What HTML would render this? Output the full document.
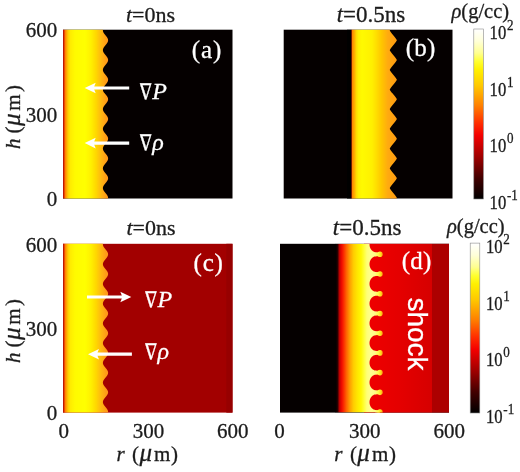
<!DOCTYPE html>
<html><head><meta charset="utf-8"><title>figure</title>
<style>html,body{margin:0;padding:0;background:#fff;}svg{display:block;filter:blur(0.45px);}text{font-family:"Liberation Serif","DejaVu Serif",serif;stroke-width:0.3px;}text[fill="#fff"]{stroke:#fff;}text:not([fill]),text[fill="#1c1c1c"]{stroke:#1c1c1c;}</style>
</head><body>
<svg width="520" height="472" viewBox="0 0 520 472" fill="#1c1c1c">
<defs>
<linearGradient id="gA" gradientUnits="userSpaceOnUse" x1="63.00" y1="0" x2="110.00" y2="0"><stop offset="0.0000" stop-color="#a00000"/><stop offset="0.0213" stop-color="#e03000"/><stop offset="0.0532" stop-color="#ff8800"/><stop offset="0.1064" stop-color="#ffcc00"/><stop offset="0.1596" stop-color="#ffec00"/><stop offset="0.2553" stop-color="#fffa00"/><stop offset="0.4681" stop-color="#ffff00"/><stop offset="0.5957" stop-color="#fff000"/><stop offset="0.7021" stop-color="#ffd800"/><stop offset="0.8085" stop-color="#ffb810"/><stop offset="0.9149" stop-color="#ff9c18"/><stop offset="1.0000" stop-color="#ff9418"/></linearGradient>
<linearGradient id="gB" gradientUnits="userSpaceOnUse" x1="347.00" y1="0" x2="398.00" y2="0"><stop offset="0.0000" stop-color="#000000"/><stop offset="0.0745" stop-color="#000000"/><stop offset="0.0902" stop-color="#802000"/><stop offset="0.1059" stop-color="#ff8800"/><stop offset="0.1471" stop-color="#ffb000"/><stop offset="0.1863" stop-color="#ffdc00"/><stop offset="0.2255" stop-color="#fff000"/><stop offset="0.2941" stop-color="#fffa00"/><stop offset="0.4902" stop-color="#fff000"/><stop offset="0.5686" stop-color="#ffe000"/><stop offset="0.6863" stop-color="#ffc400"/><stop offset="0.8039" stop-color="#ffaa10"/><stop offset="1.0000" stop-color="#ff9810"/></linearGradient>
<linearGradient id="gD" gradientUnits="userSpaceOnUse" x1="335.00" y1="0" x2="378.00" y2="0"><stop offset="0.0000" stop-color="#000000"/><stop offset="0.0535" stop-color="#180000"/><stop offset="0.1047" stop-color="#c00000"/><stop offset="0.1512" stop-color="#ec0800"/><stop offset="0.1977" stop-color="#fa2800"/><stop offset="0.2674" stop-color="#ff6400"/><stop offset="0.3488" stop-color="#ffa000"/><stop offset="0.4302" stop-color="#ffcc00"/><stop offset="0.5116" stop-color="#ffe400"/><stop offset="0.6047" stop-color="#fff800"/><stop offset="0.6744" stop-color="#ffff38"/><stop offset="0.7442" stop-color="#ffff78"/><stop offset="0.8372" stop-color="#ffff90"/><stop offset="1.0000" stop-color="#ffff80"/></linearGradient>
<linearGradient id="gS" gradientUnits="userSpaceOnUse" x1="375.00" y1="0" x2="382.80" y2="0"><stop offset="0.0000" stop-color="#ffff80"/><stop offset="0.3846" stop-color="#ffff50"/><stop offset="0.7051" stop-color="#ffe020"/><stop offset="1.0000" stop-color="#ffa010"/></linearGradient>
<linearGradient id="gCB1" gradientUnits="userSpaceOnUse" x1="0" y1="29.20" x2="0" y2="199.00"><stop offset="0.0000" stop-color="#ffffff"/><stop offset="0.0700" stop-color="#ffffd8"/><stop offset="0.1400" stop-color="#ffff90"/><stop offset="0.1900" stop-color="#ffff30"/><stop offset="0.2400" stop-color="#fff000"/><stop offset="0.3330" stop-color="#ffc800"/><stop offset="0.4500" stop-color="#ff8000"/><stop offset="0.5500" stop-color="#ff3000"/><stop offset="0.6250" stop-color="#f40000"/><stop offset="0.7500" stop-color="#a00000"/><stop offset="0.8800" stop-color="#400000"/><stop offset="1.0000" stop-color="#000000"/></linearGradient>
<linearGradient id="gCB2" gradientUnits="userSpaceOnUse" x1="0" y1="243.30" x2="0" y2="413.00"><stop offset="0.0000" stop-color="#ffffff"/><stop offset="0.0700" stop-color="#ffffd8"/><stop offset="0.1400" stop-color="#ffff90"/><stop offset="0.1900" stop-color="#ffff30"/><stop offset="0.2400" stop-color="#fff000"/><stop offset="0.3330" stop-color="#ffc800"/><stop offset="0.4500" stop-color="#ff8000"/><stop offset="0.5500" stop-color="#ff3000"/><stop offset="0.6250" stop-color="#f40000"/><stop offset="0.7500" stop-color="#a00000"/><stop offset="0.8800" stop-color="#400000"/><stop offset="1.0000" stop-color="#000000"/></linearGradient>
<linearGradient id="gR" gradientUnits="userSpaceOnUse" x1="370.00" y1="0" x2="432.00" y2="0"><stop offset="0.0000" stop-color="#ee0000"/><stop offset="0.5000" stop-color="#e40000"/><stop offset="1.0000" stop-color="#d60000"/></linearGradient>
</defs>
<rect x="63.00" y="29.70" width="169.50" height="168.80" fill="#050000"/>
<path d="M63.00 29.70 L102.95 29.70 L102.90 30.20 L102.92 30.70 L103.00 31.20 L103.14 31.70 L103.34 32.20 L103.60 32.70 L103.90 33.20 L104.25 33.70 L104.63 34.19 L105.03 34.69 L105.44 35.19 L105.85 35.69 L106.25 36.19 L106.64 36.69 L106.99 37.19 L107.31 37.69 L107.58 38.19 L107.80 38.69 L107.97 39.19 L108.07 39.69 L108.10 40.19 L108.07 40.69 L107.97 41.19 L107.81 41.69 L107.60 42.19 L107.33 42.68 L107.01 43.18 L106.66 43.68 L106.27 44.18 L105.87 44.68 L105.46 45.18 L105.05 45.68 L104.65 46.18 L104.27 46.68 L103.92 47.18 L103.61 47.68 L103.35 48.18 L103.15 48.68 L103.00 49.18 L102.92 49.68 L102.90 50.18 L102.95 50.68 L103.06 51.17 L103.24 51.67 L103.47 52.17 L103.75 52.67 L104.08 53.17 L104.44 53.67 L104.83 54.17 L105.24 54.67 L105.65 55.17 L106.06 55.67 L106.45 56.17 L106.82 56.67 L107.16 57.17 L107.46 57.67 L107.70 58.17 L107.90 58.67 L108.03 59.17 L108.09 59.66 L108.09 60.16 L108.03 60.66 L107.90 61.16 L107.71 61.66 L107.46 62.16 L107.17 62.66 L106.83 63.16 L106.46 63.66 L106.07 64.16 L105.66 64.66 L105.25 65.16 L104.84 65.66 L104.45 66.16 L104.08 66.66 L103.76 67.16 L103.47 67.66 L103.24 68.15 L103.07 68.65 L102.95 69.15 L102.90 69.65 L102.92 70.15 L103.00 70.65 L103.14 71.15 L103.35 71.65 L103.61 72.15 L103.91 72.65 L104.26 73.15 L104.64 73.65 L105.04 74.15 L105.45 74.65 L105.86 75.15 L106.26 75.65 L106.65 76.14 L107.00 76.64 L107.32 77.14 L107.59 77.64 L107.81 78.14 L107.97 78.64 L108.07 79.14 L108.10 79.64 L108.07 80.14 L107.97 80.64 L107.81 81.14 L107.59 81.64 L107.32 82.14 L107.00 82.64 L106.65 83.14 L106.26 83.64 L105.86 84.14 L105.45 84.63 L105.04 85.13 L104.64 85.63 L104.26 86.13 L103.91 86.63 L103.61 87.13 L103.35 87.63 L103.14 88.13 L103.00 88.63 L102.92 89.13 L102.90 89.63 L102.95 90.13 L103.07 90.63 L103.24 91.13 L103.47 91.63 L103.76 92.13 L104.09 92.63 L104.45 93.12 L104.84 93.62 L105.25 94.12 L105.66 94.62 L106.07 95.12 L106.46 95.62 L106.83 96.12 L107.17 96.62 L107.47 97.12 L107.71 97.62 L107.90 98.12 L108.03 98.62 L108.09 99.12 L108.09 99.62 L108.02 100.12 L107.89 100.62 L107.70 101.12 L107.46 101.61 L107.16 102.11 L106.82 102.61 L106.45 103.11 L106.06 103.61 L105.65 104.11 L105.23 104.61 L104.83 105.11 L104.44 105.61 L104.08 106.11 L103.75 106.61 L103.47 107.11 L103.24 107.61 L103.06 108.11 L102.95 108.61 L102.90 109.11 L102.92 109.61 L103.00 110.10 L103.15 110.60 L103.35 111.10 L103.61 111.60 L103.92 112.10 L104.27 112.60 L104.65 113.10 L105.05 113.60 L105.46 114.10 L105.87 114.60 L106.27 115.10 L106.66 115.60 L107.01 116.10 L107.33 116.60 L107.60 117.10 L107.81 117.60 L107.97 118.10 L108.07 118.59 L108.10 119.09 L108.07 119.59 L107.97 120.09 L107.80 120.59 L107.58 121.09 L107.31 121.59 L106.99 122.09 L106.64 122.59 L106.25 123.09 L105.85 123.59 L105.44 124.09 L105.02 124.59 L104.63 125.09 L104.25 125.59 L103.90 126.09 L103.60 126.59 L103.34 127.08 L103.14 127.58 L103.00 128.08 L102.92 128.58 L102.90 129.08 L102.95 129.58 L103.07 130.08 L103.25 130.58 L103.48 131.08 L103.77 131.58 L104.10 132.08 L104.46 132.58 L104.85 133.08 L105.26 133.58 L105.67 134.08 L106.08 134.58 L106.47 135.08 L106.84 135.57 L107.18 136.07 L107.47 136.57 L107.72 137.07 L107.90 137.57 L108.03 138.07 L108.09 138.57 L108.09 139.07 L108.02 139.57 L107.89 140.07 L107.70 140.57 L107.45 141.07 L107.15 141.57 L106.81 142.07 L106.44 142.57 L106.05 143.07 L105.64 143.57 L105.22 144.06 L104.82 144.56 L104.43 145.06 L104.07 145.56 L103.74 146.06 L103.46 146.56 L103.23 147.06 L103.06 147.56 L102.95 148.06 L102.90 148.56 L102.92 149.06 L103.01 149.56 L103.15 150.06 L103.36 150.56 L103.62 151.06 L103.93 151.56 L104.28 152.06 L104.66 152.55 L105.06 153.05 L105.47 153.55 L105.88 154.05 L106.28 154.55 L106.67 155.05 L107.02 155.55 L107.34 156.05 L107.60 156.55 L107.82 157.05 L107.98 157.55 L108.07 158.05 L108.10 158.55 L108.06 159.05 L107.96 159.55 L107.80 160.05 L107.58 160.54 L107.30 161.04 L106.98 161.54 L106.63 162.04 L106.24 162.54 L105.84 163.04 L105.42 163.54 L105.01 164.04 L104.61 164.54 L104.24 165.04 L103.89 165.54 L103.59 166.04 L103.34 166.54 L103.13 167.04 L102.99 167.54 L102.92 168.04 L102.90 168.54 L102.96 169.03 L103.07 169.53 L103.25 170.03 L103.49 170.53 L103.77 171.03 L104.10 171.53 L104.47 172.03 L104.86 172.53 L105.27 173.03 L105.68 173.53 L106.09 174.03 L106.48 174.53 L106.85 175.03 L107.19 175.53 L107.48 176.03 L107.72 176.53 L107.91 177.03 L108.03 177.52 L108.09 178.02 L108.09 178.52 L108.02 179.02 L107.89 179.52 L107.69 180.02 L107.44 180.52 L107.14 181.02 L106.80 181.52 L106.43 182.02 L106.04 182.52 L105.63 183.02 L105.21 183.52 L104.81 184.02 L104.42 184.52 L104.06 185.02 L103.73 185.52 L103.45 186.01 L103.22 186.51 L103.05 187.01 L102.95 187.51 L102.90 188.01 L102.92 188.51 L103.01 189.01 L103.16 189.51 L103.37 190.01 L103.63 190.51 L103.94 191.01 L104.29 191.51 L104.67 192.01 L105.07 192.51 L105.48 193.01 L105.89 193.51 L106.30 194.01 L106.68 194.50 L107.03 195.00 L107.34 195.50 L107.61 196.00 L107.82 196.50 L107.98 197.00 L108.07 197.50 L108.10 198.00 L108.06 198.50 L63.00 198.50 Z" fill="url(#gA)"/>
<rect x="63.00" y="243.80" width="169.50" height="168.80" fill="#a20000"/>
<rect x="226.3" y="243.80" width="6.20" height="168.80" fill="#970000"/>
<path d="M63.00 243.80 L102.95 243.80 L102.90 244.30 L102.92 244.80 L103.00 245.30 L103.14 245.80 L103.34 246.30 L103.60 246.80 L103.90 247.30 L104.25 247.80 L104.63 248.29 L105.03 248.79 L105.44 249.29 L105.85 249.79 L106.25 250.29 L106.64 250.79 L106.99 251.29 L107.31 251.79 L107.58 252.29 L107.80 252.79 L107.97 253.29 L108.07 253.79 L108.10 254.29 L108.07 254.79 L107.97 255.29 L107.81 255.79 L107.60 256.29 L107.33 256.78 L107.01 257.28 L106.66 257.78 L106.27 258.28 L105.87 258.78 L105.46 259.28 L105.05 259.78 L104.65 260.28 L104.27 260.78 L103.92 261.28 L103.61 261.78 L103.35 262.28 L103.15 262.78 L103.00 263.28 L102.92 263.78 L102.90 264.28 L102.95 264.78 L103.06 265.27 L103.24 265.77 L103.47 266.27 L103.75 266.77 L104.08 267.27 L104.44 267.77 L104.83 268.27 L105.24 268.77 L105.65 269.27 L106.06 269.77 L106.45 270.27 L106.82 270.77 L107.16 271.27 L107.46 271.77 L107.70 272.27 L107.90 272.77 L108.03 273.27 L108.09 273.76 L108.09 274.26 L108.03 274.76 L107.90 275.26 L107.71 275.76 L107.46 276.26 L107.17 276.76 L106.83 277.26 L106.46 277.76 L106.07 278.26 L105.66 278.76 L105.25 279.26 L104.84 279.76 L104.45 280.26 L104.08 280.76 L103.76 281.26 L103.47 281.76 L103.24 282.25 L103.07 282.75 L102.95 283.25 L102.90 283.75 L102.92 284.25 L103.00 284.75 L103.14 285.25 L103.35 285.75 L103.61 286.25 L103.91 286.75 L104.26 287.25 L104.64 287.75 L105.04 288.25 L105.45 288.75 L105.86 289.25 L106.26 289.75 L106.65 290.24 L107.00 290.74 L107.32 291.24 L107.59 291.74 L107.81 292.24 L107.97 292.74 L108.07 293.24 L108.10 293.74 L108.07 294.24 L107.97 294.74 L107.81 295.24 L107.59 295.74 L107.32 296.24 L107.00 296.74 L106.65 297.24 L106.26 297.74 L105.86 298.24 L105.45 298.73 L105.04 299.23 L104.64 299.73 L104.26 300.23 L103.91 300.73 L103.61 301.23 L103.35 301.73 L103.14 302.23 L103.00 302.73 L102.92 303.23 L102.90 303.73 L102.95 304.23 L103.07 304.73 L103.24 305.23 L103.47 305.73 L103.76 306.23 L104.09 306.73 L104.45 307.22 L104.84 307.72 L105.25 308.22 L105.66 308.72 L106.07 309.22 L106.46 309.72 L106.83 310.22 L107.17 310.72 L107.47 311.22 L107.71 311.72 L107.90 312.22 L108.03 312.72 L108.09 313.22 L108.09 313.72 L108.02 314.22 L107.89 314.72 L107.70 315.22 L107.46 315.71 L107.16 316.21 L106.82 316.71 L106.45 317.21 L106.06 317.71 L105.65 318.21 L105.23 318.71 L104.83 319.21 L104.44 319.71 L104.08 320.21 L103.75 320.71 L103.47 321.21 L103.24 321.71 L103.06 322.21 L102.95 322.71 L102.90 323.21 L102.92 323.71 L103.00 324.20 L103.15 324.70 L103.35 325.20 L103.61 325.70 L103.92 326.20 L104.27 326.70 L104.65 327.20 L105.05 327.70 L105.46 328.20 L105.87 328.70 L106.27 329.20 L106.66 329.70 L107.01 330.20 L107.33 330.70 L107.60 331.20 L107.81 331.70 L107.97 332.20 L108.07 332.69 L108.10 333.19 L108.07 333.69 L107.97 334.19 L107.80 334.69 L107.58 335.19 L107.31 335.69 L106.99 336.19 L106.64 336.69 L106.25 337.19 L105.85 337.69 L105.44 338.19 L105.02 338.69 L104.63 339.19 L104.25 339.69 L103.90 340.19 L103.60 340.69 L103.34 341.18 L103.14 341.68 L103.00 342.18 L102.92 342.68 L102.90 343.18 L102.95 343.68 L103.07 344.18 L103.25 344.68 L103.48 345.18 L103.77 345.68 L104.10 346.18 L104.46 346.68 L104.85 347.18 L105.26 347.68 L105.67 348.18 L106.08 348.68 L106.47 349.18 L106.84 349.67 L107.18 350.17 L107.47 350.67 L107.72 351.17 L107.90 351.67 L108.03 352.17 L108.09 352.67 L108.09 353.17 L108.02 353.67 L107.89 354.17 L107.70 354.67 L107.45 355.17 L107.15 355.67 L106.81 356.17 L106.44 356.67 L106.05 357.17 L105.64 357.67 L105.22 358.16 L104.82 358.66 L104.43 359.16 L104.07 359.66 L103.74 360.16 L103.46 360.66 L103.23 361.16 L103.06 361.66 L102.95 362.16 L102.90 362.66 L102.92 363.16 L103.01 363.66 L103.15 364.16 L103.36 364.66 L103.62 365.16 L103.93 365.66 L104.28 366.16 L104.66 366.65 L105.06 367.15 L105.47 367.65 L105.88 368.15 L106.28 368.65 L106.67 369.15 L107.02 369.65 L107.34 370.15 L107.60 370.65 L107.82 371.15 L107.98 371.65 L108.07 372.15 L108.10 372.65 L108.06 373.15 L107.96 373.65 L107.80 374.15 L107.58 374.64 L107.30 375.14 L106.98 375.64 L106.63 376.14 L106.24 376.64 L105.84 377.14 L105.42 377.64 L105.01 378.14 L104.61 378.64 L104.24 379.14 L103.89 379.64 L103.59 380.14 L103.34 380.64 L103.13 381.14 L102.99 381.64 L102.92 382.14 L102.90 382.64 L102.96 383.13 L103.07 383.63 L103.25 384.13 L103.49 384.63 L103.77 385.13 L104.10 385.63 L104.47 386.13 L104.86 386.63 L105.27 387.13 L105.68 387.63 L106.09 388.13 L106.48 388.63 L106.85 389.13 L107.19 389.63 L107.48 390.13 L107.72 390.63 L107.91 391.13 L108.03 391.62 L108.09 392.12 L108.09 392.62 L108.02 393.12 L107.89 393.62 L107.69 394.12 L107.44 394.62 L107.14 395.12 L106.80 395.62 L106.43 396.12 L106.04 396.62 L105.63 397.12 L105.21 397.62 L104.81 398.12 L104.42 398.62 L104.06 399.12 L103.73 399.62 L103.45 400.11 L103.22 400.61 L103.05 401.11 L102.95 401.61 L102.90 402.11 L102.92 402.61 L103.01 403.11 L103.16 403.61 L103.37 404.11 L103.63 404.61 L103.94 405.11 L104.29 405.61 L104.67 406.11 L105.07 406.61 L105.48 407.11 L105.89 407.61 L106.30 408.11 L106.68 408.60 L107.03 409.10 L107.34 409.60 L107.61 410.10 L107.82 410.60 L107.98 411.10 L108.07 411.60 L108.10 412.10 L108.06 412.60 L63.00 412.60 Z" fill="url(#gA)"/>
<rect x="283.70" y="29.70" width="168.80" height="168.80" fill="#050000"/>
<path d="M347.00 29.70 L390.07 29.70 L389.78 30.20 L389.90 30.70 L390.20 31.20 L390.53 31.70 L390.87 32.20 L391.23 32.70 L391.61 33.20 L392.00 33.70 L392.41 34.19 L392.82 34.69 L393.24 35.19 L393.65 35.69 L394.07 36.19 L394.47 36.69 L394.87 37.19 L395.25 37.69 L395.62 38.19 L395.97 38.69 L396.30 39.19 L396.61 39.69 L396.89 40.19 L396.62 40.69 L396.32 41.19 L395.99 41.69 L395.64 42.19 L395.27 42.68 L394.89 43.18 L394.49 43.68 L394.09 44.18 L393.67 44.68 L393.26 45.18 L392.84 45.68 L392.43 46.18 L392.02 46.68 L391.63 47.18 L391.25 47.68 L390.89 48.18 L390.54 48.68 L390.22 49.18 L389.92 49.68 L389.76 50.18 L390.05 50.68 L390.37 51.17 L390.70 51.67 L391.05 52.17 L391.43 52.67 L391.81 53.17 L392.21 53.67 L392.62 54.17 L393.03 54.67 L393.45 55.17 L393.87 55.67 L394.28 56.17 L394.68 56.67 L395.07 57.17 L395.44 57.67 L395.80 58.17 L396.14 58.67 L396.46 59.17 L396.76 59.66 L396.76 60.16 L396.47 60.66 L396.15 61.16 L395.81 61.66 L395.45 62.16 L395.08 62.66 L394.69 63.16 L394.29 63.66 L393.87 64.16 L393.46 64.66 L393.04 65.16 L392.63 65.66 L392.22 66.16 L391.82 66.66 L391.43 67.16 L391.06 67.66 L390.71 68.15 L390.37 68.65 L390.06 69.15 L389.77 69.65 L389.91 70.15 L390.21 70.65 L390.54 71.15 L390.88 71.65 L391.24 72.15 L391.62 72.65 L392.02 73.15 L392.42 73.65 L392.83 74.15 L393.25 74.65 L393.66 75.15 L394.08 75.65 L394.48 76.14 L394.88 76.64 L395.26 77.14 L395.63 77.64 L395.98 78.14 L396.31 78.64 L396.62 79.14 L396.90 79.64 L396.61 80.14 L396.31 80.64 L395.98 81.14 L395.63 81.64 L395.26 82.14 L394.88 82.64 L394.48 83.14 L394.08 83.64 L393.66 84.14 L393.25 84.63 L392.83 85.13 L392.42 85.63 L392.01 86.13 L391.62 86.63 L391.24 87.13 L390.88 87.63 L390.53 88.13 L390.21 88.63 L389.91 89.13 L389.77 89.63 L390.06 90.13 L390.38 90.63 L390.71 91.13 L391.06 91.63 L391.44 92.13 L391.82 92.63 L392.22 93.12 L392.63 93.62 L393.04 94.12 L393.46 94.62 L393.88 95.12 L394.29 95.62 L394.69 96.12 L395.08 96.62 L395.45 97.12 L395.81 97.62 L396.15 98.12 L396.47 98.62 L396.76 99.12 L396.76 99.62 L396.46 100.12 L396.14 100.62 L395.80 101.12 L395.44 101.61 L395.07 102.11 L394.68 102.61 L394.27 103.11 L393.86 103.61 L393.45 104.11 L393.03 104.61 L392.62 105.11 L392.21 105.61 L391.81 106.11 L391.42 106.61 L391.05 107.11 L390.70 107.61 L390.37 108.11 L390.05 108.61 L389.76 109.11 L389.92 109.61 L390.22 110.10 L390.54 110.60 L390.89 111.10 L391.25 111.60 L391.63 112.10 L392.03 112.60 L392.43 113.10 L392.84 113.60 L393.26 114.10 L393.67 114.60 L394.09 115.10 L394.49 115.60 L394.89 116.10 L395.27 116.60 L395.64 117.10 L395.99 117.60 L396.32 118.10 L396.62 118.59 L396.89 119.09 L396.61 119.59 L396.30 120.09 L395.97 120.59 L395.62 121.09 L395.25 121.59 L394.87 122.09 L394.47 122.59 L394.06 123.09 L393.65 123.59 L393.23 124.09 L392.82 124.59 L392.41 125.09 L392.00 125.59 L391.61 126.09 L391.23 126.59 L390.87 127.08 L390.53 127.58 L390.20 128.08 L389.90 128.58 L389.78 129.08 L390.07 129.58 L390.38 130.08 L390.72 130.58 L391.07 131.08 L391.45 131.58 L391.83 132.08 L392.23 132.58 L392.64 133.08 L393.06 133.58 L393.47 134.08 L393.89 134.58 L394.30 135.08 L394.70 135.57 L395.09 136.07 L395.46 136.57 L395.82 137.07 L396.16 137.57 L396.48 138.07 L396.77 138.57 L396.75 139.07 L396.45 139.57 L396.13 140.07 L395.79 140.57 L395.43 141.07 L395.06 141.57 L394.67 142.07 L394.26 142.57 L393.85 143.07 L393.44 143.57 L393.02 144.06 L392.61 144.56 L392.20 145.06 L391.80 145.56 L391.41 146.06 L391.04 146.56 L390.69 147.06 L390.36 147.56 L390.05 148.06 L389.76 148.56 L389.93 149.06 L390.23 149.56 L390.55 150.06 L390.90 150.56 L391.26 151.06 L391.64 151.56 L392.04 152.06 L392.44 152.55 L392.85 153.05 L393.27 153.55 L393.69 154.05 L394.10 154.55 L394.50 155.05 L394.90 155.55 L395.28 156.05 L395.65 156.55 L396.00 157.05 L396.33 157.55 L396.63 158.05 L396.88 158.55 L396.60 159.05 L396.29 159.55 L395.96 160.05 L395.61 160.54 L395.24 161.04 L394.86 161.54 L394.46 162.04 L394.05 162.54 L393.64 163.04 L393.22 163.54 L392.81 164.04 L392.40 164.54 L391.99 165.04 L391.60 165.54 L391.22 166.04 L390.86 166.54 L390.52 167.04 L390.19 167.54 L389.89 168.04 L389.79 168.54 L390.08 169.03 L390.39 169.53 L390.73 170.03 L391.08 170.53 L391.46 171.03 L391.84 171.53 L392.24 172.03 L392.65 172.53 L393.07 173.03 L393.48 173.53 L393.90 174.03 L394.31 174.53 L394.71 175.03 L395.10 175.53 L395.47 176.03 L395.83 176.53 L396.17 177.03 L396.49 177.52 L396.78 178.02 L396.74 178.52 L396.44 179.02 L396.12 179.52 L395.78 180.02 L395.42 180.52 L395.05 181.02 L394.66 181.52 L394.25 182.02 L393.84 182.52 L393.43 183.02 L393.01 183.52 L392.60 184.02 L392.19 184.52 L391.79 185.02 L391.40 185.52 L391.03 186.01 L390.68 186.51 L390.35 187.01 L390.04 187.51 L389.75 188.01 L389.93 188.51 L390.24 189.01 L390.56 189.51 L390.91 190.01 L391.27 190.51 L391.65 191.01 L392.05 191.51 L392.45 192.01 L392.86 192.51 L393.28 193.01 L393.70 193.51 L394.11 194.01 L394.52 194.50 L394.91 195.00 L395.29 195.50 L395.66 196.00 L396.01 196.50 L396.33 197.00 L396.64 197.50 L396.88 198.00 L396.59 198.50 L347.00 198.50 Z" fill="url(#gB)"/>
<rect x="280.00" y="243.80" width="169.00" height="168.80" fill="#050000"/>
<rect x="364" y="243.80" width="68.00" height="168.80" fill="url(#gR)"/>
<rect x="432" y="243.80" width="17.00" height="168.80" fill="#ac0000"/>
<clipPath id="clipD"><rect x="280.00" y="243.80" width="169.00" height="168.80"/></clipPath>
<g clip-path="url(#clipD)">
<path d="M335 243.80 L369.52 243.80 L369.51 244.00 L369.50 244.20 L369.50 244.40 L369.50 244.60 L369.51 244.80 L369.52 245.00 L369.53 245.20 L369.55 245.40 L369.57 245.60 L369.60 245.80 L369.64 246.00 L369.67 246.20 L369.72 246.40 L369.76 246.60 L369.82 246.80 L369.87 247.00 L369.93 247.20 L370.00 247.40 L370.08 247.60 L370.16 247.80 L370.24 248.00 L370.33 248.20 L370.43 248.40 L370.53 248.60 L370.65 248.80 L370.77 249.00 L370.89 249.20 L371.03 249.40 L371.18 249.60 L371.33 249.80 L371.50 250.00 L371.68 250.20 L371.87 250.40 L372.08 250.60 L372.31 250.80 L372.56 251.00 L372.83 251.20 L373.14 251.40 L373.48 251.60 L373.89 251.80 L374.40 252.00 L375.11 252.20 L376.40 252.40 L376.40 252.60 L376.40 252.80 L376.40 253.00 L376.40 253.20 L376.40 253.40 L376.40 253.60 L376.40 253.80 L376.40 254.00 L376.40 254.20 L376.40 254.40 L376.40 254.60 L376.40 254.80 L376.40 255.00 L376.40 255.20 L376.40 255.40 L376.40 255.60 L376.40 255.80 L376.40 256.00 L376.40 256.20 L375.11 256.40 L374.40 256.60 L373.89 256.80 L373.48 257.00 L373.14 257.20 L372.83 257.40 L372.56 257.60 L372.31 257.80 L372.08 258.00 L371.87 258.20 L371.68 258.40 L371.50 258.60 L371.33 258.80 L371.18 259.00 L371.03 259.20 L370.89 259.40 L370.77 259.60 L370.65 259.80 L370.53 260.00 L370.43 260.20 L370.33 260.40 L370.24 260.60 L370.16 260.80 L370.08 261.00 L370.00 261.20 L369.93 261.40 L369.87 261.60 L369.82 261.80 L369.76 262.00 L369.72 262.20 L369.67 262.40 L369.64 262.60 L369.60 262.80 L369.57 263.00 L369.55 263.20 L369.53 263.40 L369.52 263.60 L369.51 263.80 L369.50 264.00 L369.50 264.20 L369.50 264.40 L369.51 264.60 L369.52 264.80 L369.54 265.00 L369.56 265.20 L369.59 265.40 L369.62 265.60 L369.65 265.80 L369.69 266.00 L369.73 266.20 L369.78 266.40 L369.84 266.60 L369.90 266.80 L369.96 267.00 L370.03 267.20 L370.11 267.40 L370.19 267.60 L370.28 267.80 L370.37 268.00 L370.47 268.20 L370.58 268.40 L370.69 268.60 L370.82 268.80 L370.95 269.00 L371.09 269.20 L371.24 269.40 L371.40 269.60 L371.57 269.80 L371.75 270.00 L371.95 270.20 L372.17 270.40 L372.40 270.60 L372.66 270.80 L372.95 271.00 L373.27 271.20 L373.64 271.40 L374.08 271.60 L374.64 271.80 L375.55 272.00 L376.40 272.20 L376.40 272.40 L376.40 272.60 L376.40 272.80 L376.40 273.00 L376.40 273.20 L376.40 273.40 L376.40 273.60 L376.40 273.80 L376.40 274.00 L376.40 274.20 L376.40 274.40 L376.40 274.60 L376.40 274.80 L376.40 275.00 L376.40 275.20 L376.40 275.40 L376.40 275.60 L376.40 275.80 L375.91 276.00 L374.78 276.20 L374.18 276.40 L373.72 276.60 L373.34 276.80 L373.01 277.00 L372.72 277.20 L372.45 277.40 L372.21 277.60 L371.99 277.80 L371.79 278.00 L371.60 278.20 L371.43 278.40 L371.27 278.60 L371.12 278.80 L370.97 279.00 L370.84 279.20 L370.72 279.40 L370.60 279.60 L370.49 279.80 L370.39 280.00 L370.29 280.20 L370.21 280.40 L370.12 280.60 L370.05 280.80 L369.97 281.00 L369.91 281.20 L369.85 281.40 L369.79 281.60 L369.74 281.80 L369.70 282.00 L369.66 282.20 L369.62 282.40 L369.59 282.60 L369.56 282.80 L369.54 283.00 L369.53 283.20 L369.51 283.40 L369.50 283.60 L369.50 283.80 L369.50 284.00 L369.51 284.20 L369.51 284.40 L369.53 284.60 L369.55 284.80 L369.57 285.00 L369.60 285.20 L369.63 285.40 L369.67 285.60 L369.71 285.80 L369.75 286.00 L369.80 286.20 L369.86 286.40 L369.92 286.60 L369.99 286.80 L370.06 287.00 L370.14 287.20 L370.22 287.40 L370.31 287.60 L370.41 287.80 L370.51 288.00 L370.62 288.20 L370.74 288.40 L370.87 288.60 L371.00 288.80 L371.15 289.00 L371.30 289.20 L371.46 289.40 L371.64 289.60 L371.83 289.80 L372.04 290.00 L372.26 290.20 L372.50 290.40 L372.77 290.60 L373.07 290.80 L373.41 291.00 L373.80 291.20 L374.29 291.40 L374.94 291.60 L376.40 291.80 L376.40 292.00 L376.40 292.20 L376.40 292.40 L376.40 292.60 L376.40 292.80 L376.40 293.00 L376.40 293.20 L376.40 293.40 L376.40 293.60 L376.40 293.80 L376.40 294.00 L376.40 294.20 L376.40 294.40 L376.40 294.60 L376.40 294.80 L376.40 295.00 L376.40 295.20 L376.40 295.40 L376.40 295.60 L375.31 295.80 L374.52 296.00 L373.98 296.20 L373.56 296.40 L373.20 296.60 L372.89 296.80 L372.61 297.00 L372.35 297.20 L372.12 297.40 L371.91 297.60 L371.72 297.80 L371.53 298.00 L371.36 298.20 L371.21 298.40 L371.06 298.60 L370.92 298.80 L370.79 299.00 L370.67 299.20 L370.56 299.40 L370.45 299.60 L370.35 299.80 L370.26 300.00 L370.17 300.20 L370.09 300.40 L370.02 300.60 L369.95 300.80 L369.88 301.00 L369.83 301.20 L369.77 301.40 L369.72 301.60 L369.68 301.80 L369.64 302.00 L369.61 302.20 L369.58 302.40 L369.56 302.60 L369.54 302.80 L369.52 303.00 L369.51 303.20 L369.50 303.40 L369.50 303.60 L369.50 303.80 L369.51 304.00 L369.52 304.20 L369.54 304.40 L369.56 304.60 L369.58 304.80 L369.61 305.00 L369.64 305.20 L369.68 305.40 L369.72 305.60 L369.77 305.80 L369.83 306.00 L369.88 306.20 L369.95 306.40 L370.02 306.60 L370.09 306.80 L370.17 307.00 L370.26 307.20 L370.35 307.40 L370.45 307.60 L370.56 307.80 L370.67 308.00 L370.79 308.20 L370.92 308.40 L371.06 308.60 L371.21 308.80 L371.36 309.00 L371.53 309.20 L371.72 309.40 L371.91 309.60 L372.12 309.80 L372.35 310.00 L372.61 310.20 L372.89 310.40 L373.20 310.60 L373.56 310.80 L373.98 311.00 L374.52 311.20 L375.31 311.40 L376.40 311.60 L376.40 311.80 L376.40 312.00 L376.40 312.20 L376.40 312.40 L376.40 312.60 L376.40 312.80 L376.40 313.00 L376.40 313.20 L376.40 313.40 L376.40 313.60 L376.40 313.80 L376.40 314.00 L376.40 314.20 L376.40 314.40 L376.40 314.60 L376.40 314.80 L376.40 315.00 L376.40 315.20 L376.40 315.40 L374.94 315.60 L374.29 315.80 L373.80 316.00 L373.41 316.20 L373.07 316.40 L372.77 316.60 L372.50 316.80 L372.26 317.00 L372.04 317.20 L371.83 317.40 L371.64 317.60 L371.46 317.80 L371.30 318.00 L371.15 318.20 L371.00 318.40 L370.87 318.60 L370.74 318.80 L370.62 319.00 L370.51 319.20 L370.41 319.40 L370.31 319.60 L370.22 319.80 L370.14 320.00 L370.06 320.20 L369.99 320.40 L369.92 320.60 L369.86 320.80 L369.80 321.00 L369.75 321.20 L369.71 321.40 L369.67 321.60 L369.63 321.80 L369.60 322.00 L369.57 322.20 L369.55 322.40 L369.53 322.60 L369.51 322.80 L369.51 323.00 L369.50 323.20 L369.50 323.40 L369.50 323.60 L369.51 323.80 L369.53 324.00 L369.54 324.20 L369.56 324.40 L369.59 324.60 L369.62 324.80 L369.66 325.00 L369.70 325.20 L369.74 325.40 L369.79 325.60 L369.85 325.80 L369.91 326.00 L369.97 326.20 L370.05 326.40 L370.12 326.60 L370.21 326.80 L370.29 327.00 L370.39 327.20 L370.49 327.40 L370.60 327.60 L370.72 327.80 L370.84 328.00 L370.97 328.20 L371.12 328.40 L371.27 328.60 L371.43 328.80 L371.60 329.00 L371.79 329.20 L371.99 329.40 L372.21 329.60 L372.45 329.80 L372.72 330.00 L373.01 330.20 L373.34 330.40 L373.72 330.60 L374.18 330.80 L374.78 331.00 L375.91 331.20 L376.40 331.40 L376.40 331.60 L376.40 331.80 L376.40 332.00 L376.40 332.20 L376.40 332.40 L376.40 332.60 L376.40 332.80 L376.40 333.00 L376.40 333.20 L376.40 333.40 L376.40 333.60 L376.40 333.80 L376.40 334.00 L376.40 334.20 L376.40 334.40 L376.40 334.60 L376.40 334.80 L376.40 335.00 L375.55 335.20 L374.64 335.40 L374.08 335.60 L373.64 335.80 L373.27 336.00 L372.95 336.20 L372.66 336.40 L372.40 336.60 L372.17 336.80 L371.95 337.00 L371.75 337.20 L371.57 337.40 L371.40 337.60 L371.24 337.80 L371.09 338.00 L370.95 338.20 L370.82 338.40 L370.69 338.60 L370.58 338.80 L370.47 339.00 L370.37 339.20 L370.28 339.40 L370.19 339.60 L370.11 339.80 L370.03 340.00 L369.96 340.20 L369.90 340.40 L369.84 340.60 L369.78 340.80 L369.73 341.00 L369.69 341.20 L369.65 341.40 L369.62 341.60 L369.59 341.80 L369.56 342.00 L369.54 342.20 L369.52 342.40 L369.51 342.60 L369.50 342.80 L369.50 343.00 L369.50 343.20 L369.51 343.40 L369.52 343.60 L369.53 343.80 L369.55 344.00 L369.57 344.20 L369.60 344.40 L369.64 344.60 L369.67 344.80 L369.72 345.00 L369.76 345.20 L369.82 345.40 L369.87 345.60 L369.93 345.80 L370.00 346.00 L370.08 346.20 L370.16 346.40 L370.24 346.60 L370.33 346.80 L370.43 347.00 L370.53 347.20 L370.65 347.40 L370.77 347.60 L370.89 347.80 L371.03 348.00 L371.18 348.20 L371.33 348.40 L371.50 348.60 L371.68 348.80 L371.87 349.00 L372.08 349.20 L372.31 349.40 L372.56 349.60 L372.83 349.80 L373.14 350.00 L373.48 350.20 L373.89 350.40 L374.40 350.60 L375.11 350.80 L376.40 351.00 L376.40 351.20 L376.40 351.40 L376.40 351.60 L376.40 351.80 L376.40 352.00 L376.40 352.20 L376.40 352.40 L376.40 352.60 L376.40 352.80 L376.40 353.00 L376.40 353.20 L376.40 353.40 L376.40 353.60 L376.40 353.80 L376.40 354.00 L376.40 354.20 L376.40 354.40 L376.40 354.60 L376.40 354.80 L375.11 355.00 L374.40 355.20 L373.89 355.40 L373.48 355.60 L373.14 355.80 L372.83 356.00 L372.56 356.20 L372.31 356.40 L372.08 356.60 L371.87 356.80 L371.68 357.00 L371.50 357.20 L371.33 357.40 L371.18 357.60 L371.03 357.80 L370.89 358.00 L370.77 358.20 L370.65 358.40 L370.53 358.60 L370.43 358.80 L370.33 359.00 L370.24 359.20 L370.16 359.40 L370.08 359.60 L370.00 359.80 L369.93 360.00 L369.87 360.20 L369.82 360.40 L369.76 360.60 L369.72 360.80 L369.67 361.00 L369.64 361.20 L369.60 361.40 L369.57 361.60 L369.55 361.80 L369.53 362.00 L369.52 362.20 L369.51 362.40 L369.50 362.60 L369.50 362.80 L369.50 363.00 L369.51 363.20 L369.52 363.40 L369.54 363.60 L369.56 363.80 L369.59 364.00 L369.62 364.20 L369.65 364.40 L369.69 364.60 L369.73 364.80 L369.78 365.00 L369.84 365.20 L369.90 365.40 L369.96 365.60 L370.03 365.80 L370.11 366.00 L370.19 366.20 L370.28 366.40 L370.37 366.60 L370.47 366.80 L370.58 367.00 L370.69 367.20 L370.82 367.40 L370.95 367.60 L371.09 367.80 L371.24 368.00 L371.40 368.20 L371.57 368.40 L371.75 368.60 L371.95 368.80 L372.17 369.00 L372.40 369.20 L372.66 369.40 L372.95 369.60 L373.27 369.80 L373.64 370.00 L374.08 370.20 L374.64 370.40 L375.55 370.60 L376.40 370.80 L376.40 371.00 L376.40 371.20 L376.40 371.40 L376.40 371.60 L376.40 371.80 L376.40 372.00 L376.40 372.20 L376.40 372.40 L376.40 372.60 L376.40 372.80 L376.40 373.00 L376.40 373.20 L376.40 373.40 L376.40 373.60 L376.40 373.80 L376.40 374.00 L376.40 374.20 L376.40 374.40 L375.91 374.60 L374.78 374.80 L374.18 375.00 L373.72 375.20 L373.34 375.40 L373.01 375.60 L372.72 375.80 L372.45 376.00 L372.21 376.20 L371.99 376.40 L371.79 376.60 L371.60 376.80 L371.43 377.00 L371.27 377.20 L371.12 377.40 L370.97 377.60 L370.84 377.80 L370.72 378.00 L370.60 378.20 L370.49 378.40 L370.39 378.60 L370.29 378.80 L370.21 379.00 L370.12 379.20 L370.05 379.40 L369.97 379.60 L369.91 379.80 L369.85 380.00 L369.79 380.20 L369.74 380.40 L369.70 380.60 L369.66 380.80 L369.62 381.00 L369.59 381.20 L369.56 381.40 L369.54 381.60 L369.53 381.80 L369.51 382.00 L369.50 382.20 L369.50 382.40 L369.50 382.60 L369.51 382.80 L369.51 383.00 L369.53 383.20 L369.55 383.40 L369.57 383.60 L369.60 383.80 L369.63 384.00 L369.67 384.20 L369.71 384.40 L369.75 384.60 L369.80 384.80 L369.86 385.00 L369.92 385.20 L369.99 385.40 L370.06 385.60 L370.14 385.80 L370.22 386.00 L370.31 386.20 L370.41 386.40 L370.51 386.60 L370.62 386.80 L370.74 387.00 L370.87 387.20 L371.00 387.40 L371.15 387.60 L371.30 387.80 L371.46 388.00 L371.64 388.20 L371.83 388.40 L372.04 388.60 L372.26 388.80 L372.50 389.00 L372.77 389.20 L373.07 389.40 L373.41 389.60 L373.80 389.80 L374.29 390.00 L374.94 390.20 L376.40 390.40 L376.40 390.60 L376.40 390.80 L376.40 391.00 L376.40 391.20 L376.40 391.40 L376.40 391.60 L376.40 391.80 L376.40 392.00 L376.40 392.20 L376.40 392.40 L376.40 392.60 L376.40 392.80 L376.40 393.00 L376.40 393.20 L376.40 393.40 L376.40 393.60 L376.40 393.80 L376.40 394.00 L376.40 394.20 L375.31 394.40 L374.52 394.60 L373.98 394.80 L373.56 395.00 L373.20 395.20 L372.89 395.40 L372.61 395.60 L372.35 395.80 L372.12 396.00 L371.91 396.20 L371.72 396.40 L371.53 396.60 L371.36 396.80 L371.21 397.00 L371.06 397.20 L370.92 397.40 L370.79 397.60 L370.67 397.80 L370.56 398.00 L370.45 398.20 L370.35 398.40 L370.26 398.60 L370.17 398.80 L370.09 399.00 L370.02 399.20 L369.95 399.40 L369.88 399.60 L369.83 399.80 L369.77 400.00 L369.72 400.20 L369.68 400.40 L369.64 400.60 L369.61 400.80 L369.58 401.00 L369.56 401.20 L369.54 401.40 L369.52 401.60 L369.51 401.80 L369.50 402.00 L369.50 402.20 L369.50 402.40 L369.51 402.60 L369.52 402.80 L369.54 403.00 L369.56 403.20 L369.58 403.40 L369.61 403.60 L369.64 403.80 L369.68 404.00 L369.72 404.20 L369.77 404.40 L369.83 404.60 L369.88 404.80 L369.95 405.00 L370.02 405.20 L370.09 405.40 L370.17 405.60 L370.26 405.80 L370.35 406.00 L370.45 406.20 L370.56 406.40 L370.67 406.60 L370.79 406.80 L370.92 407.00 L371.06 407.20 L371.21 407.40 L371.36 407.60 L371.53 407.80 L371.72 408.00 L371.91 408.20 L372.12 408.40 L372.35 408.60 L372.61 408.80 L372.89 409.00 L373.20 409.20 L373.56 409.40 L373.98 409.60 L374.52 409.80 L375.31 410.00 L376.40 410.20 L376.40 410.40 L376.40 410.60 L376.40 410.80 L376.40 411.00 L376.40 411.20 L376.40 411.40 L376.40 411.60 L376.40 411.80 L376.40 412.00 L376.40 412.20 L376.40 412.40 L376.40 412.60 L335 412.60 Z" fill="url(#gD)"/>
<rect x="375.5" y="232.63" width="4.5" height="3.9" fill="url(#gS)"/>
<ellipse cx="380" cy="234.58" rx="2.7" ry="2.8" fill="url(#gS)"/>
<rect x="375.5" y="252.35" width="4.5" height="3.9" fill="url(#gS)"/>
<ellipse cx="380" cy="254.30" rx="2.7" ry="2.8" fill="url(#gS)"/>
<rect x="375.5" y="272.07" width="4.5" height="3.9" fill="url(#gS)"/>
<ellipse cx="380" cy="274.02" rx="2.7" ry="2.8" fill="url(#gS)"/>
<rect x="375.5" y="291.79" width="4.5" height="3.9" fill="url(#gS)"/>
<ellipse cx="380" cy="293.74" rx="2.7" ry="2.8" fill="url(#gS)"/>
<rect x="375.5" y="311.51" width="4.5" height="3.9" fill="url(#gS)"/>
<ellipse cx="380" cy="313.46" rx="2.7" ry="2.8" fill="url(#gS)"/>
<rect x="375.5" y="331.23" width="4.5" height="3.9" fill="url(#gS)"/>
<ellipse cx="380" cy="333.18" rx="2.7" ry="2.8" fill="url(#gS)"/>
<rect x="375.5" y="350.95" width="4.5" height="3.9" fill="url(#gS)"/>
<ellipse cx="380" cy="352.90" rx="2.7" ry="2.8" fill="url(#gS)"/>
<rect x="375.5" y="370.67" width="4.5" height="3.9" fill="url(#gS)"/>
<ellipse cx="380" cy="372.62" rx="2.7" ry="2.8" fill="url(#gS)"/>
<rect x="375.5" y="390.39" width="4.5" height="3.9" fill="url(#gS)"/>
<ellipse cx="380" cy="392.34" rx="2.7" ry="2.8" fill="url(#gS)"/>
<rect x="375.5" y="410.11" width="4.5" height="3.9" fill="url(#gS)"/>
<ellipse cx="380" cy="412.06" rx="2.7" ry="2.8" fill="url(#gS)"/>
</g>
<rect x="473.80" y="29.00" width="9.6" height="170.00" fill="url(#gCB1)" stroke="#8a8a8a" stroke-width="0.6"/>
<rect x="470.20" y="243.10" width="9.6" height="169.90" fill="url(#gCB2)" stroke="#8a8a8a" stroke-width="0.6"/>
<path d="M84.70 88.00 L95.70 82.70 L94.20 86.40 L129.20 86.40 L129.20 89.60 L94.20 89.60 L95.70 93.30 Z" fill="#fff"/>
<path d="M84.70 143.10 L95.70 137.80 L94.20 141.50 L129.20 141.50 L129.20 144.70 L94.20 144.70 L95.70 148.40 Z" fill="#fff"/>
<path d="M131.30 297.00 L120.30 291.70 L121.80 295.40 L87.00 295.40 L87.00 298.60 L121.80 298.60 L120.30 302.30 Z" fill="#fff"/>
<path d="M88.00 354.20 L99.00 348.90 L97.50 352.60 L131.90 352.60 L131.90 355.80 L97.50 355.80 L99.00 359.50 Z" fill="#fff"/>
<text x="150.50" y="21.50" font-size="22.00" text-anchor="middle" fill="#1c1c1c" ><tspan font-style="italic">t</tspan>=0ns</text>
<text x="371.00" y="21.50" font-size="23.00" text-anchor="middle" fill="#1c1c1c" ><tspan font-style="italic">t</tspan>=0.5ns</text>
<text x="151.00" y="235.30" font-size="22.00" text-anchor="middle" fill="#1c1c1c" ><tspan font-style="italic">t</tspan>=0ns</text>
<text x="367.10" y="235.30" font-size="23.00" text-anchor="middle" fill="#1c1c1c" ><tspan font-style="italic">t</tspan>=0.5ns</text>
<text x="451.50" y="17.80" font-size="20.50" text-anchor="start" fill="#1c1c1c" ><tspan font-style="italic">&#961;</tspan>(g/cc)</text>
<text x="447.00" y="232.60" font-size="20.50" text-anchor="start" fill="#1c1c1c" ><tspan font-style="italic">&#961;</tspan>(g/cc)</text>
<text x="57.20" y="37.40" font-size="21.00" text-anchor="end" fill="#1c1c1c" >600</text>
<text x="57.20" y="121.80" font-size="21.00" text-anchor="end" fill="#1c1c1c" >300</text>
<text x="57.20" y="206.20" font-size="21.00" text-anchor="end" fill="#1c1c1c" >0</text>
<text x="57.20" y="251.50" font-size="21.00" text-anchor="end" fill="#1c1c1c" >600</text>
<text x="57.20" y="335.90" font-size="21.00" text-anchor="end" fill="#1c1c1c" >300</text>
<text x="57.20" y="420.30" font-size="21.00" text-anchor="end" fill="#1c1c1c" >0</text>
<text x="63.80" y="438.10" font-size="21.00" text-anchor="middle" fill="#1c1c1c" >0</text>
<text x="148.40" y="438.10" font-size="21.00" text-anchor="middle" fill="#1c1c1c" >300</text>
<text x="232.80" y="438.10" font-size="21.00" text-anchor="middle" fill="#1c1c1c" >600</text>
<text x="279.60" y="438.10" font-size="21.00" text-anchor="middle" fill="#1c1c1c" >0</text>
<text x="364.80" y="438.10" font-size="21.00" text-anchor="middle" fill="#1c1c1c" >300</text>
<text x="449.20" y="438.10" font-size="21.00" text-anchor="middle" fill="#1c1c1c" >600</text>
<text y="461.3" font-size="21" x="116.5 125.5 132.1 139.5 154.1 171.1"><tspan font-style="italic">r</tspan> (<tspan font-style="italic" font-size="25">&#956;</tspan>m)</text>
<text y="461.3" font-size="21" x="334.3 343.3 349.9 357.3 371.9 388.9"><tspan font-style="italic">r</tspan> (<tspan font-style="italic" font-size="25">&#956;</tspan>m)</text>
<text transform="translate(20.3 149.00) rotate(-90)" font-size="21" x="0 11 15.6 23.0 38.3 57.0" y="0"><tspan font-style="italic">h</tspan> (<tspan font-style="italic" font-size="25">&#956;</tspan>m)</text>
<text transform="translate(20.3 363.10) rotate(-90)" font-size="21" x="0 11 15.6 23.0 38.3 57.0" y="0"><tspan font-style="italic">h</tspan> (<tspan font-style="italic" font-size="25">&#956;</tspan>m)</text>
<text transform="translate(489.60 39.00) scale(0.9 1)" font-size="18.5">10<tspan dy="-9" dx="0.8" font-size="14.5">2</tspan></text>
<text transform="translate(489.60 95.60) scale(0.9 1)" font-size="18.5">10<tspan dy="-9" dx="0.8" font-size="14.5">1</tspan></text>
<text transform="translate(489.60 152.20) scale(0.9 1)" font-size="18.5">10<tspan dy="-9" dx="0.8" font-size="14.5">0</tspan></text>
<text transform="translate(489.60 208.80) scale(0.9 1)" font-size="18.5">10<tspan dy="-9" dx="0.8" font-size="14.5">-1</tspan></text>
<text transform="translate(486.00 253.10) scale(0.9 1)" font-size="18.5">10<tspan dy="-9" dx="0.8" font-size="14.5">2</tspan></text>
<text transform="translate(486.00 309.67) scale(0.9 1)" font-size="18.5">10<tspan dy="-9" dx="0.8" font-size="14.5">1</tspan></text>
<text transform="translate(486.00 366.23) scale(0.9 1)" font-size="18.5">10<tspan dy="-9" dx="0.8" font-size="14.5">0</tspan></text>
<text transform="translate(486.00 422.80) scale(0.9 1)" font-size="18.5">10<tspan dy="-9" dx="0.8" font-size="14.5">-1</tspan></text>
<text x="206.50" y="57.50" font-size="25.00" text-anchor="middle" fill="#fff" textLength="29.5" lengthAdjust="spacing">(a)</text>
<text x="420.50" y="56.20" font-size="25.00" text-anchor="middle" fill="#fff" textLength="29.5" lengthAdjust="spacing">(b)</text>
<text x="208.20" y="270.70" font-size="25.00" text-anchor="middle" fill="#fff" textLength="29.5" lengthAdjust="spacing">(c)</text>
<text x="416.60" y="269.30" font-size="25.00" text-anchor="middle" fill="#fff" textLength="29.5" lengthAdjust="spacing">(d)</text>
<text transform="translate(137.70 98.60) scale(0.78 0.95)" font-size="23" fill="#fff" style="font-family:'DejaVu Math TeX Gyre','DejaVu Sans',sans-serif">&#8711;</text><text x="152.20" y="98.60" font-size="24" fill="#fff" font-style="italic">P</text>
<text transform="translate(137.70 150.00) scale(0.78 0.95)" font-size="23" fill="#fff" style="font-family:'DejaVu Math TeX Gyre','DejaVu Sans',sans-serif">&#8711;</text><text x="152.20" y="150.00" font-size="24" fill="#fff" font-style="italic">&#961;</text>
<text transform="translate(143.10 307.10) scale(0.78 0.95)" font-size="23" fill="#fff" style="font-family:'DejaVu Math TeX Gyre','DejaVu Sans',sans-serif">&#8711;</text><text x="157.60" y="307.10" font-size="24" fill="#fff" font-style="italic">P</text>
<text transform="translate(143.10 359.40) scale(0.78 0.95)" font-size="23" fill="#fff" style="font-family:'DejaVu Math TeX Gyre','DejaVu Sans',sans-serif">&#8711;</text><text x="157.60" y="359.40" font-size="24" fill="#fff" font-style="italic">&#961;</text>
<text transform="translate(408 334) rotate(90)" font-family="Liberation Sans, sans-serif" style="font-family:'Liberation Sans',sans-serif" font-size="28" fill="#fff" text-anchor="middle">shock</text>
</svg></body></html>
